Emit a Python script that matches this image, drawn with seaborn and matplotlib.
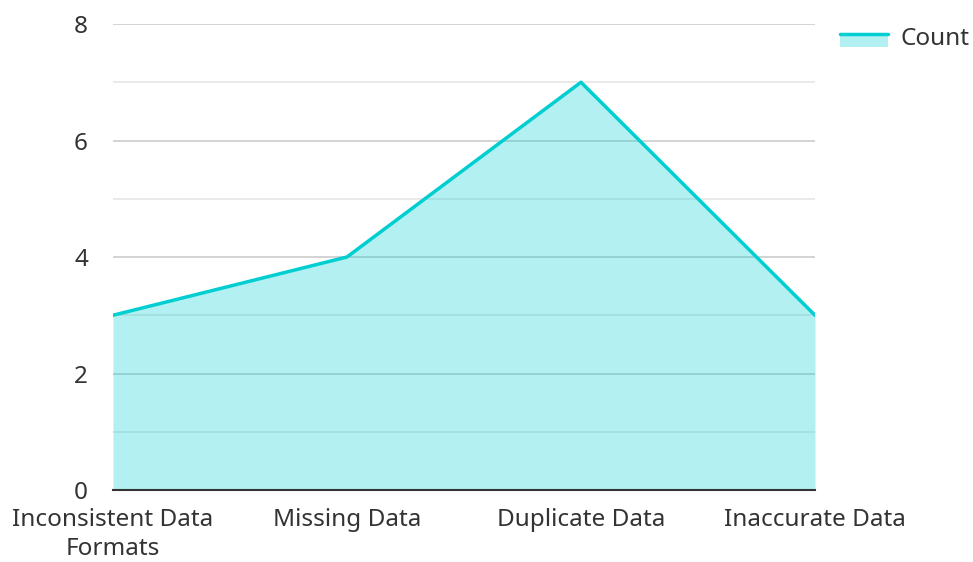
import matplotlib
matplotlib.use("Agg")
import matplotlib.pyplot as plt
import seaborn as sns
import pandas as pd
from matplotlib.legend_handler import HandlerBase
from matplotlib.patches import Rectangle
from matplotlib.lines import Line2D
from matplotlib.ticker import MultipleLocator

categories = ["Inconsistent Data\nFormats", "Missing Data", "Duplicate Data", "Inaccurate Data"]
counts = [3, 4, 7, 3]
series_name = "Count"

df = pd.DataFrame({"cat": range(len(categories)), "val": counts})

sns.set_theme(style="white")
plt.rcParams["font.family"] = ["Noto Sans", "DejaVu Sans"]

fig = plt.figure(figsize=(9.73, 5.62), dpi=100)
ax = fig.add_axes([0.1161, 0.1281, 0.8376 - 0.1161, 0.9573 - 0.1281])

line_c = "#00CED1"
FS = 17.5

ax.fill_between(df["cat"], df["val"], 0, color=line_c, alpha=0.3, linewidth=0, zorder=2)
sns.lineplot(data=df, x="cat", y="val", ax=ax, color=line_c, linewidth=2.5, zorder=3)

ax.set_xlim(0, len(categories) - 1)
ax.set_ylim(0, 8)
ax.yaxis.set_major_locator(MultipleLocator(2))
ax.yaxis.set_minor_locator(MultipleLocator(1))
ax.set_axisbelow(True)
ax.grid(which="major", axis="y", color="#cccccc", linewidth=1.2, zorder=0)
ax.grid(which="minor", axis="y", color="#e6e6e6", linewidth=1.2, zorder=0)
for s in ["top", "right", "left"]:
    ax.spines[s].set_visible(False)
ax.spines["bottom"].set_color("#333333")
ax.spines["bottom"].set_linewidth(1.5)
ax.spines["bottom"].set_zorder(4)

ax.set_xticks(range(len(categories)))
ax.set_xticklabels(categories, fontsize=FS, color="#333333", linespacing=1.3)
ax.tick_params(axis="x", length=0, pad=13)
ax.tick_params(axis="y", which="both", length=0, pad=18, labelsize=FS, labelcolor="#333333")
ax.set_xlabel("")
ax.set_ylabel("")


class AreaHandler(HandlerBase):
    def create_artists(self, legend, orig_handle, xdescent, ydescent, width, height, fontsize, trans):
        c = -ydescent + height / 2.0
        top = c + 1.5
        bot = c - 8.0
        r = Rectangle((-xdescent, bot), width, top - bot, facecolor=line_c, alpha=0.3,
                      edgecolor="none", transform=trans)
        l = Line2D([-xdescent, -xdescent + width], [top, top], color=line_c,
                   linewidth=2.5, transform=trans)
        return [r, l]


proxy = Rectangle((0, 0), 1, 1)
leg = fig.legend([proxy], [series_name], handler_map={Rectangle: AreaHandler()},
                 loc="upper left", bbox_to_anchor=(0.853, 0.97), frameon=False,
                 fontsize=FS, handlelength=2.0, handleheight=0.45, handletextpad=0.5,
                 borderaxespad=0)
for t in leg.get_texts():
    t.set_color("#333333")

fig.savefig("out.png", dpi=100)
